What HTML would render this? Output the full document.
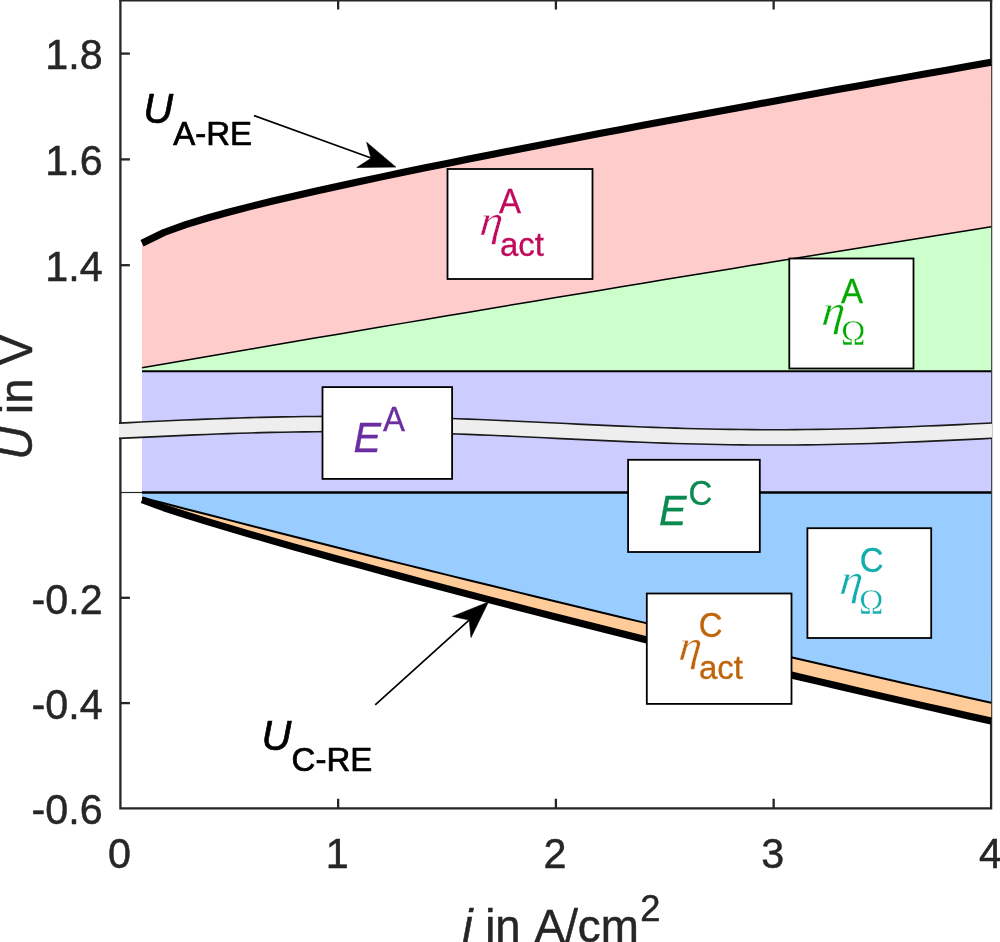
<!DOCTYPE html>
<html lang="en"><head><meta charset="utf-8"><title>Polarisation curve breakdown</title>
<style>html,body{margin:0;padding:0;background:#fff}svg{display:block}</style></head>
<body>
<svg width="1000" height="942" viewBox="0 0 1000 942">
<rect width="1000" height="942" fill="#fff"/>
<g stroke="#262626" stroke-width="2.3" fill="none">
<path d="M120.4 0V808.3H991.1V0"/>
<path d="M119.3 0.2H992.2" stroke-width="2.6"/>
<path d="M338.15 808.3v-9.5M338.15 0v9.5"/>
<path d="M555.90 808.3v-9.5M555.90 0v9.5"/>
<path d="M773.65 808.3v-9.5M773.65 0v9.5"/>
<path d="M120.4 53.6h9.5"/>
<path d="M120.4 159.4h9.5"/>
<path d="M120.4 265.2h9.5"/>
<path d="M120.4 597.8h9.5"/>
<path d="M120.4 703.1h9.5"/>
</g>
<path d="M120.4 492.5H142.0" stroke="#262626" stroke-width="1.2"/>
<path d="M142.00 243.26 L163.95 232.48 L185.73 224.66 L207.50 218.00 L229.28 211.99 L251.05 206.39 L272.83 201.07 L294.60 195.96 L316.38 191.02 L338.15 186.20 L359.93 181.49 L381.70 176.86 L403.48 172.32 L425.25 167.83 L447.03 163.41 L468.80 159.03 L490.58 154.70 L512.35 150.41 L534.12 146.16 L555.90 141.94 L577.68 137.75 L599.45 133.59 L621.23 129.46 L643.00 125.36 L664.77 121.27 L686.55 117.21 L708.33 113.17 L730.10 109.15 L751.88 105.15 L773.65 101.17 L795.43 97.20 L817.20 93.26 L838.98 89.32 L860.75 85.41 L882.53 81.51 L904.30 77.62 L926.08 73.75 L947.85 69.89 L969.63 66.04 L991.20 62.24 L991.20 226.79 L969.63 230.23 L947.85 233.71 L926.08 237.19 L904.30 240.69 L882.53 244.19 L860.75 247.70 L838.98 251.21 L817.20 254.74 L795.43 258.27 L773.65 261.81 L751.88 265.35 L730.10 268.91 L708.33 272.47 L686.55 276.04 L664.77 279.61 L643.00 283.20 L621.23 286.79 L599.45 290.39 L577.68 294.00 L555.90 297.61 L534.12 301.23 L512.35 304.86 L490.58 308.50 L468.80 312.14 L447.03 315.79 L425.25 319.45 L403.48 323.12 L381.70 326.79 L359.93 330.48 L338.15 334.17 L316.38 337.86 L294.60 341.57 L272.83 345.28 L251.05 349.00 L229.28 352.73 L207.50 356.46 L185.73 360.20 L163.95 363.95 L142.00 367.74 Z" fill="#ffcccc"/>
<path d="M142.00 367.74 L163.95 363.95 L185.73 360.20 L207.50 356.46 L229.28 352.73 L251.05 349.00 L272.83 345.28 L294.60 341.57 L316.38 337.86 L338.15 334.17 L359.93 330.48 L381.70 326.79 L403.48 323.12 L425.25 319.45 L447.03 315.79 L468.80 312.14 L490.58 308.50 L512.35 304.86 L534.12 301.23 L555.90 297.61 L577.68 294.00 L599.45 290.39 L621.23 286.79 L643.00 283.20 L664.77 279.61 L686.55 276.04 L708.33 272.47 L730.10 268.91 L751.88 265.35 L773.65 261.81 L795.43 258.27 L817.20 254.74 L838.98 251.21 L860.75 247.70 L882.53 244.19 L904.30 240.69 L926.08 237.19 L947.85 233.71 L969.63 230.23 L991.20 226.79 L991.20 371.20 L142.00 371.20 Z" fill="#ccffcc"/>
<path d="M142.00 371.20 L991.20 371.20 L991.20 492.50 L142.00 492.50 Z" fill="#ccccff"/>
<path d="M142.00 492.50 L991.20 492.50 L991.20 702.77 L969.63 697.94 L947.85 693.05 L926.08 688.13 L904.30 683.20 L882.53 678.24 L860.75 673.27 L838.98 668.27 L817.20 663.25 L795.43 658.22 L773.65 653.16 L751.88 648.08 L730.10 642.99 L708.33 637.87 L686.55 632.73 L664.77 627.57 L643.00 622.40 L621.23 617.20 L599.45 611.98 L577.68 606.74 L555.90 601.48 L534.12 596.20 L512.35 590.90 L490.58 585.58 L468.80 580.24 L447.03 574.88 L425.25 569.50 L403.48 564.10 L381.70 558.67 L359.93 553.23 L338.15 547.77 L316.38 542.29 L294.60 536.78 L272.83 531.26 L251.05 525.72 L229.28 520.15 L207.50 514.57 L185.73 508.96 L163.95 503.34 L142.00 497.65 Z" fill="#99ccff"/>
<path d="M142.00 497.65 L163.95 503.34 L185.73 508.96 L207.50 514.57 L229.28 520.15 L251.05 525.72 L272.83 531.26 L294.60 536.78 L316.38 542.29 L338.15 547.77 L359.93 553.23 L381.70 558.67 L403.48 564.10 L425.25 569.50 L447.03 574.88 L468.80 580.24 L490.58 585.58 L512.35 590.90 L534.12 596.20 L555.90 601.48 L577.68 606.74 L599.45 611.98 L621.23 617.20 L643.00 622.40 L664.77 627.57 L686.55 632.73 L708.33 637.87 L730.10 642.99 L751.88 648.08 L773.65 653.16 L795.43 658.22 L817.20 663.25 L838.98 668.27 L860.75 673.27 L882.53 678.24 L904.30 683.20 L926.08 688.13 L947.85 693.05 L969.63 697.94 L991.20 702.77 L991.20 721.08 L969.63 716.24 L947.85 711.33 L926.08 706.38 L904.30 701.40 L882.53 696.39 L860.75 691.34 L838.98 686.26 L817.20 681.14 L795.43 675.99 L773.65 670.80 L751.88 665.58 L730.10 660.33 L708.33 655.04 L686.55 649.71 L664.77 644.35 L643.00 638.95 L621.23 633.52 L599.45 628.04 L577.68 622.53 L555.90 616.99 L534.12 611.40 L512.35 605.78 L490.58 600.11 L468.80 594.41 L447.03 588.66 L425.25 582.86 L403.48 577.03 L381.70 571.14 L359.93 565.20 L338.15 559.21 L316.38 553.16 L294.60 547.04 L272.83 540.85 L251.05 534.56 L229.28 528.17 L207.50 521.64 L185.73 514.89 L163.95 507.78 L142.00 499.78 Z" fill="#ffcc99"/>
<g stroke="#000" fill="none" stroke-width="1.5">
<path d="M142.00 367.74 L163.95 363.95 L185.73 360.20 L207.50 356.46 L229.28 352.73 L251.05 349.00 L272.83 345.28 L294.60 341.57 L316.38 337.86 L338.15 334.17 L359.93 330.48 L381.70 326.79 L403.48 323.12 L425.25 319.45 L447.03 315.79 L468.80 312.14 L490.58 308.50 L512.35 304.86 L534.12 301.23 L555.90 297.61 L577.68 294.00 L599.45 290.39 L621.23 286.79 L643.00 283.20 L664.77 279.61 L686.55 276.04 L708.33 272.47 L730.10 268.91 L751.88 265.35 L773.65 261.81 L795.43 258.27 L817.20 254.74 L838.98 251.21 L860.75 247.70 L882.53 244.19 L904.30 240.69 L926.08 237.19 L947.85 233.71 L969.63 230.23 L991.20 226.79"/>
<path d="M142.00 371.20 L991.20 371.20" stroke-width="1.9"/>
<path d="M142.00 497.65 L163.95 503.34 L185.73 508.96 L207.50 514.57 L229.28 520.15 L251.05 525.72 L272.83 531.26 L294.60 536.78 L316.38 542.29 L338.15 547.77 L359.93 553.23 L381.70 558.67 L403.48 564.10 L425.25 569.50 L447.03 574.88 L468.80 580.24 L490.58 585.58 L512.35 590.90 L534.12 596.20 L555.90 601.48 L577.68 606.74 L599.45 611.98 L621.23 617.20 L643.00 622.40 L664.77 627.57 L686.55 632.73 L708.33 637.87 L730.10 642.99 L751.88 648.08 L773.65 653.16 L795.43 658.22 L817.20 663.25 L838.98 668.27 L860.75 673.27 L882.53 678.24 L904.30 683.20 L926.08 688.13 L947.85 693.05 L969.63 697.94 L991.20 702.77" stroke-width="2"/>
</g>
<path d="M142.00 492.50 L991.20 492.50" stroke="#000" stroke-width="2.7" fill="none"/>
<path d="M142.00 243.26 L163.95 232.48 L185.73 224.66 L207.50 218.00 L229.28 211.99 L251.05 206.39 L272.83 201.07 L294.60 195.96 L316.38 191.02 L338.15 186.20 L359.93 181.49 L381.70 176.86 L403.48 172.32 L425.25 167.83 L447.03 163.41 L468.80 159.03 L490.58 154.70 L512.35 150.41 L534.12 146.16 L555.90 141.94 L577.68 137.75 L599.45 133.59 L621.23 129.46 L643.00 125.36 L664.77 121.27 L686.55 117.21 L708.33 113.17 L730.10 109.15 L751.88 105.15 L773.65 101.17 L795.43 97.20 L817.20 93.26 L838.98 89.32 L860.75 85.41 L882.53 81.51 L904.30 77.62 L926.08 73.75 L947.85 69.89 L969.63 66.04 L991.20 62.24" stroke="#000" stroke-width="7.1" fill="none" stroke-linejoin="round"/>
<path d="M142.00 499.78 L163.95 507.78 L185.73 514.89 L207.50 521.64 L229.28 528.17 L251.05 534.56 L272.83 540.85 L294.60 547.04 L316.38 553.16 L338.15 559.21 L359.93 565.20 L381.70 571.14 L403.48 577.03 L425.25 582.86 L447.03 588.66 L468.80 594.41 L490.58 600.11 L512.35 605.78 L534.12 611.40 L555.90 616.99 L577.68 622.53 L599.45 628.04 L621.23 633.52 L643.00 638.95 L664.77 644.35 L686.55 649.71 L708.33 655.04 L730.10 660.33 L751.88 665.58 L773.65 670.80 L795.43 675.99 L817.20 681.14 L838.98 686.26 L860.75 691.34 L882.53 696.39 L904.30 701.40 L926.08 706.38 L947.85 711.33 L969.63 716.24 L991.20 721.08" stroke="#000" stroke-width="7.1" fill="none" stroke-linejoin="round"/>
<path d="M119.00 423.12 L129.91 422.59 L140.82 422.07 L151.74 421.55 L162.65 421.04 L173.56 420.54 L184.47 420.06 L195.39 419.60 L206.30 419.16 L217.21 418.74 L228.12 418.35 L239.04 417.99 L249.95 417.66 L260.86 417.36 L271.77 417.10 L282.69 416.88 L293.60 416.69 L304.51 416.55 L315.43 416.44 L326.34 416.37 L337.25 416.35 L348.16 416.37 L359.07 416.43 L369.99 416.53 L380.90 416.67 L391.81 416.85 L402.73 417.06 L413.64 417.32 L424.55 417.61 L435.46 417.93 L446.38 418.29 L457.29 418.68 L468.20 419.09 L479.11 419.53 L490.02 419.98 L500.94 420.46 L511.85 420.96 L522.76 421.46 L533.67 421.98 L544.59 422.50 L555.50 423.03 L566.41 423.56 L577.33 424.08 L588.24 424.60 L599.15 425.11 L610.06 425.60 L620.98 426.08 L631.89 426.54 L642.80 426.98 L653.71 427.39 L664.62 427.78 L675.54 428.14 L686.45 428.47 L697.36 428.76 L708.27 429.02 L719.19 429.24 L730.10 429.42 L741.01 429.57 L751.92 429.67 L762.84 429.73 L773.75 429.75 L784.66 429.73 L795.58 429.67 L806.49 429.56 L817.40 429.42 L828.31 429.24 L839.23 429.01 L850.14 428.76 L861.05 428.46 L871.96 428.13 L882.88 427.78 L893.79 427.39 L904.70 426.97 L915.61 426.53 L926.52 426.07 L937.44 425.59 L948.35 425.10 L959.26 424.59 L970.17 424.07 L981.09 423.55 L992.00 423.02 L992.00 438.32 L981.09 438.85 L970.17 439.37 L959.26 439.89 L948.35 440.40 L937.44 440.89 L926.52 441.37 L915.61 441.83 L904.70 442.27 L893.79 442.69 L882.88 443.08 L871.96 443.43 L861.05 443.76 L850.14 444.06 L839.23 444.31 L828.31 444.54 L817.40 444.72 L806.49 444.86 L795.58 444.97 L784.66 445.03 L773.75 445.05 L762.84 445.03 L751.92 444.97 L741.01 444.87 L730.10 444.72 L719.19 444.54 L708.27 444.32 L697.36 444.06 L686.45 443.77 L675.54 443.44 L664.62 443.08 L653.71 442.69 L642.80 442.28 L631.89 441.84 L620.98 441.38 L610.06 440.90 L599.15 440.41 L588.24 439.90 L577.33 439.38 L566.41 438.86 L555.50 438.33 L544.59 437.80 L533.67 437.28 L522.76 436.76 L511.85 436.26 L500.94 435.76 L490.02 435.28 L479.11 434.83 L468.20 434.39 L457.29 433.98 L446.38 433.59 L435.46 433.23 L424.55 432.91 L413.64 432.62 L402.73 432.36 L391.81 432.15 L380.90 431.97 L369.99 431.83 L359.07 431.73 L348.16 431.67 L337.25 431.65 L326.34 431.67 L315.43 431.74 L304.51 431.85 L293.60 431.99 L282.69 432.18 L271.77 432.40 L260.86 432.66 L249.95 432.96 L239.04 433.29 L228.12 433.65 L217.21 434.04 L206.30 434.46 L195.39 434.90 L184.47 435.36 L173.56 435.84 L162.65 436.34 L151.74 436.85 L140.82 437.37 L129.91 437.89 L119.00 438.42 Z" fill="#eeeeee"/>
<path d="M119.00 423.12 L129.91 422.59 L140.82 422.07 L151.74 421.55 L162.65 421.04 L173.56 420.54 L184.47 420.06 L195.39 419.60 L206.30 419.16 L217.21 418.74 L228.12 418.35 L239.04 417.99 L249.95 417.66 L260.86 417.36 L271.77 417.10 L282.69 416.88 L293.60 416.69 L304.51 416.55 L315.43 416.44 L326.34 416.37 L337.25 416.35 L348.16 416.37 L359.07 416.43 L369.99 416.53 L380.90 416.67 L391.81 416.85 L402.73 417.06 L413.64 417.32 L424.55 417.61 L435.46 417.93 L446.38 418.29 L457.29 418.68 L468.20 419.09 L479.11 419.53 L490.02 419.98 L500.94 420.46 L511.85 420.96 L522.76 421.46 L533.67 421.98 L544.59 422.50 L555.50 423.03 L566.41 423.56 L577.33 424.08 L588.24 424.60 L599.15 425.11 L610.06 425.60 L620.98 426.08 L631.89 426.54 L642.80 426.98 L653.71 427.39 L664.62 427.78 L675.54 428.14 L686.45 428.47 L697.36 428.76 L708.27 429.02 L719.19 429.24 L730.10 429.42 L741.01 429.57 L751.92 429.67 L762.84 429.73 L773.75 429.75 L784.66 429.73 L795.58 429.67 L806.49 429.56 L817.40 429.42 L828.31 429.24 L839.23 429.01 L850.14 428.76 L861.05 428.46 L871.96 428.13 L882.88 427.78 L893.79 427.39 L904.70 426.97 L915.61 426.53 L926.52 426.07 L937.44 425.59 L948.35 425.10 L959.26 424.59 L970.17 424.07 L981.09 423.55 L992.00 423.02" stroke="#1a1a1a" stroke-width="1.6" fill="none"/>
<path d="M119.00 438.42 L129.91 437.89 L140.82 437.37 L151.74 436.85 L162.65 436.34 L173.56 435.84 L184.47 435.36 L195.39 434.90 L206.30 434.46 L217.21 434.04 L228.12 433.65 L239.04 433.29 L249.95 432.96 L260.86 432.66 L271.77 432.40 L282.69 432.18 L293.60 431.99 L304.51 431.85 L315.43 431.74 L326.34 431.67 L337.25 431.65 L348.16 431.67 L359.07 431.73 L369.99 431.83 L380.90 431.97 L391.81 432.15 L402.73 432.36 L413.64 432.62 L424.55 432.91 L435.46 433.23 L446.38 433.59 L457.29 433.98 L468.20 434.39 L479.11 434.83 L490.02 435.28 L500.94 435.76 L511.85 436.26 L522.76 436.76 L533.67 437.28 L544.59 437.80 L555.50 438.33 L566.41 438.86 L577.33 439.38 L588.24 439.90 L599.15 440.41 L610.06 440.90 L620.98 441.38 L631.89 441.84 L642.80 442.28 L653.71 442.69 L664.62 443.08 L675.54 443.44 L686.45 443.77 L697.36 444.06 L708.27 444.32 L719.19 444.54 L730.10 444.72 L741.01 444.87 L751.92 444.97 L762.84 445.03 L773.75 445.05 L784.66 445.03 L795.58 444.97 L806.49 444.86 L817.40 444.72 L828.31 444.54 L839.23 444.31 L850.14 444.06 L861.05 443.76 L871.96 443.43 L882.88 443.08 L893.79 442.69 L904.70 442.27 L915.61 441.83 L926.52 441.37 L937.44 440.89 L948.35 440.40 L959.26 439.89 L970.17 439.37 L981.09 438.85 L992.00 438.32" stroke="#1a1a1a" stroke-width="1.6" fill="none"/>
<g stroke="#000" stroke-width="1.7" fill="#000">
<path d="M254 115.6L372.5 158.5" fill="none"/>
<path d="M395.8 167.1L356.8 167.5L371.1 158.3L366.6 142.2Z" stroke-width="0.6" stroke-linejoin="round"/>
<path d="M375.2 704.8L470.2 619.2" fill="none"/>
<path d="M488.4 602.0L471.0 637.6L469.2 620.1L452.5 616.4Z" stroke-width="0.6" stroke-linejoin="round"/>
</g>
<rect x="447.5" y="169.0" width="145.0" height="110.0" fill="#fff" stroke="#000" stroke-width="1.8"/>
<rect x="789.3" y="258.5" width="124.2" height="110.0" fill="#fff" stroke="#000" stroke-width="1.8"/>
<rect x="322.5" y="387.1" width="129.6" height="91.8" fill="#fff" stroke="#000" stroke-width="1.8"/>
<rect x="628.1" y="459.8" width="131.7" height="92.2" fill="#fff" stroke="#000" stroke-width="1.8"/>
<rect x="807.4" y="528.2" width="123.8" height="109.8" fill="#fff" stroke="#000" stroke-width="1.8"/>
<rect x="646.8" y="593.5" width="144.7" height="110.4" fill="#fff" stroke="#000" stroke-width="1.8"/>
<g font-family="'Liberation Sans', Arial, sans-serif" fill="#262626" stroke="#262626" stroke-width="0.5">
<text transform="translate(102.60 69.30) scale(1.000 1.025)" font-size="41.3" text-anchor="end">1.8</text>
<text transform="translate(102.60 175.20) scale(1.000 1.025)" font-size="41.3" text-anchor="end">1.6</text>
<text transform="translate(102.60 281.10) scale(1.000 1.025)" font-size="41.3" text-anchor="end">1.4</text>
<text transform="translate(102.60 613.80) scale(1.000 1.025)" font-size="41.3" text-anchor="end">-0.2</text>
<text transform="translate(102.60 719.10) scale(1.000 1.025)" font-size="41.3" text-anchor="end">-0.4</text>
<text transform="translate(102.60 824.30) scale(1.000 1.025)" font-size="41.3" text-anchor="end">-0.6</text>
<text transform="translate(119.60 868.40) scale(1.000 1.025)" font-size="41.3" text-anchor="middle">0</text>
<text transform="translate(337.35 868.40) scale(1.000 1.025)" font-size="41.3" text-anchor="middle">1</text>
<text transform="translate(555.10 868.40) scale(1.000 1.025)" font-size="41.3" text-anchor="middle">2</text>
<text transform="translate(772.85 868.40) scale(1.000 1.025)" font-size="41.3" text-anchor="middle">3</text>
<text transform="translate(990.60 868.40) scale(1.000 1.025)" font-size="41.3" text-anchor="middle">4</text>
<text transform="translate(462.50 941.70) scale(1.000 1.025)" font-size="45.4" font-style="italic">i</text>
<text transform="translate(485.20 941.70) scale(1.000 1.000)" font-size="45.4">in</text>
<text transform="translate(534.60 941.70) scale(1.000 1.025)" font-size="45.8">A/cm</text>
<text transform="translate(640.30 921.10) scale(1.000 1.025)" font-size="36.3">2</text>
<text transform="translate(32.20 459.70) rotate(-90) scale(1.000 1.025)" font-size="45.4" font-style="italic">U</text>
<text transform="translate(32.20 413.90) rotate(-90) scale(1.000 1.000)" font-size="45.4">in</text>
<text transform="translate(32.20 364.90) rotate(-90) scale(1.000 1.025)" font-size="45.4">V</text>
</g>
<g fill="#c00a5c" stroke="#c00a5c" stroke-width="0.3" font-family="'Liberation Sans', Arial, sans-serif"><text stroke="#fff" stroke-width="0.4" transform="translate(479.10 234.60) scale(1.070 1.000) skewX(-5.0)" font-size="43.0" font-style="italic" font-family="'Liberation Serif', 'DejaVu Serif', serif">η</text><text transform="translate(499.10 212.60) scale(1.000 1.055)" font-size="33.0">A</text><text transform="translate(499.90 255.50) scale(1.000 1.000)" font-size="33.0">act</text></g>
<g fill="#00aa00" stroke="#00aa00" stroke-width="0.3" font-family="'Liberation Sans', Arial, sans-serif"><text stroke="#fff" stroke-width="0.4" transform="translate(821.10 324.60) scale(1.070 1.000) skewX(-5.0)" font-size="43.0" font-style="italic" font-family="'Liberation Serif', 'DejaVu Serif', serif">η</text><text transform="translate(841.10 302.60) scale(1.000 1.055)" font-size="33.0">A</text><text stroke="#fff" stroke-width="0.5" transform="translate(840.90 344.90) scale(0.940 1.030)" font-size="35.0" font-family="'Liberation Serif', 'DejaVu Serif', serif">Ω</text></g>
<g fill="#6b2ea0" stroke="#6b2ea0" stroke-width="0.3" font-family="'Liberation Sans', Arial, sans-serif"><text transform="translate(353.50 451.90) scale(1.000 1.025)" font-size="41.3" font-style="italic">E</text><text transform="translate(383.00 431.20) scale(1.000 1.055)" font-size="33.0">A</text></g>
<g fill="#0a8a50" stroke="#0a8a50" stroke-width="0.3" font-family="'Liberation Sans', Arial, sans-serif"><text transform="translate(659.00 525.40) scale(1.000 1.025)" font-size="41.3" font-style="italic">E</text><text transform="translate(688.50 504.70) scale(1.000 1.055)" font-size="33.0">C</text></g>
<g fill="#12adad" stroke="#12adad" stroke-width="0.3" font-family="'Liberation Sans', Arial, sans-serif"><text stroke="#fff" stroke-width="0.4" transform="translate(839.10 594.00) scale(1.070 1.000) skewX(-5.0)" font-size="43.0" font-style="italic" font-family="'Liberation Serif', 'DejaVu Serif', serif">η</text><text transform="translate(859.80 571.90) scale(1.000 1.055)" font-size="33.0">C</text><text stroke="#fff" stroke-width="0.5" transform="translate(858.90 614.30) scale(0.940 1.030)" font-size="35.0" font-family="'Liberation Serif', 'DejaVu Serif', serif">Ω</text></g>
<g fill="#c0640a" stroke="#c0640a" stroke-width="0.3" font-family="'Liberation Sans', Arial, sans-serif"><text stroke="#fff" stroke-width="0.4" transform="translate(678.10 659.50) scale(1.070 1.000) skewX(-5.0)" font-size="43.0" font-style="italic" font-family="'Liberation Serif', 'DejaVu Serif', serif">η</text><text transform="translate(698.80 637.40) scale(1.000 1.055)" font-size="33.0">C</text><text transform="translate(698.90 679.20) scale(1.000 1.000)" font-size="33.0">act</text></g>
<g fill="#000" stroke="#000" stroke-width="0.7" font-family="'Liberation Sans', Arial, sans-serif">
<text transform="translate(143.30 123.40) scale(1.000 1.025)" font-size="41.3" font-style="italic">U</text>
<text transform="translate(173.20 144.60) scale(1.000 1.025)" font-size="33.0">A-RE</text>
<text transform="translate(261.50 749.70) scale(1.000 1.025)" font-size="41.3" font-style="italic">U</text>
<text transform="translate(291.60 770.60) scale(1.000 1.025)" font-size="33.0">C-RE</text>
</g>
</svg>
</body></html>
